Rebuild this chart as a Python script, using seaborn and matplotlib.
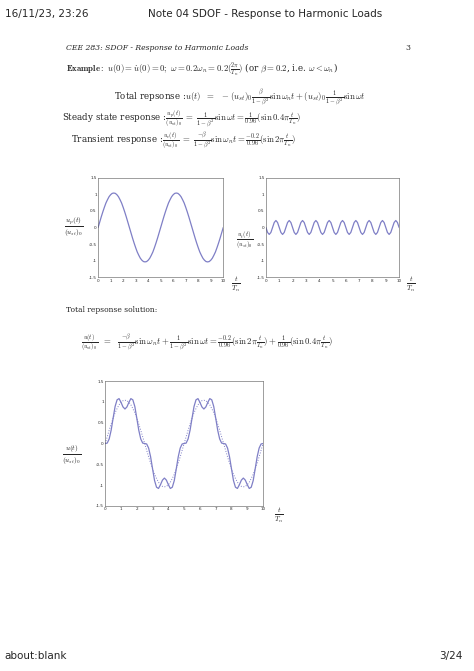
import matplotlib
matplotlib.use("Agg")
import matplotlib.pyplot as plt
import numpy as np
import seaborn as sns

# time samples t/Tn (step 0.125)
t = [i * 0.125 for i in range(81)]

# steady state response up(t)/(ust)0
quarter = [0, .16, .32, .47, .61, .74, .84, .93, .99, 1.03, 1.04]
half_pos = quarter + [1.03, .99, .93, .84, .74, .61, .47, .32, .16]
steady = (half_pos + [-v for v in half_pos]) * 2 + [0]

# transient response ut(t)/(ust)0
cycle = [0, -.15, -.21, -.15, 0, .15, .21, .15]
transient = cycle * 10 + [0]

total = list(np.array(steady) + np.array(transient))

ticks_x = [0, 1, 2, 3, 4, 5, 6, 7, 8, 9, 10]
ticks_y = [-1.5, -1, -0.5, 0, 0.5, 1, 1.5]
tick_labels_y = ["-1.5", "-1", "-0.5", "0", "0.5", "1", "1.5"]

LINE = "#7f7fc6"


def style_axes(ax):
    ax.set_xlim(0, 10)
    ax.set_ylim(-1.5, 1.5)
    ax.set_xticks(ticks_x)
    ax.set_yticks(ticks_y)
    ax.set_yticklabels(tick_labels_y)
    ax.tick_params(labelsize=3, length=1.5, width=0.4, pad=1, direction="in")
    for s in ax.spines.values():
        s.set_linewidth(0.4)
        s.set_color("#555555")
    ax.set_xlabel("")
    ax.set_ylabel("")


def main():
    sns.set_style("white")
    plt.rcParams["mathtext.fontset"] = "cm"
    fig = plt.figure(figsize=(4.74, 6.71), dpi=100)

    # page header/footer
    fig.text(0.01, 0.975, "16/11/23, 23:26", fontsize=7.5, family="DejaVu Sans")
    fig.text(0.56, 0.975, "Note 04 SDOF - Response to Harmonic Loads", fontsize=7.5,
             ha="center", family="DejaVu Sans")
    fig.text(0.01, 0.018, "about:blank", fontsize=7.5)
    fig.text(0.975, 0.018, "3/24", fontsize=7.5, ha="right")

    serif = "DejaVu Serif"
    fig.text(0.14, 0.925, "CEE 283: SDOF - Response to Harmonic Loads", fontsize=5.5,
             style="italic", family=serif)
    fig.text(0.855, 0.925, "3", fontsize=5.5, family=serif)
    fig.text(0.14, 0.893, r"$\mathbf{Example:}\ u(0)=\dot{u}(0)=0;\ \omega=0.2\omega_n=0.2(\frac{2\pi}{T_n})$"
             r" (or $\beta=0.2$, i.e. $\omega<\omega_n$)", fontsize=6.3, family=serif)
    fig.text(0.24, 0.852, r"Total repsonse :$u(t)\ \ =\ \ -(u_{st})_0\frac{\beta}{1-\beta^2}\sin\omega_n t+(u_{st})_0\frac{1}{1-\beta^2}\sin\omega t$",
             fontsize=6.3, family=serif)
    fig.text(0.13, 0.82, r"Steady state response :$\frac{u_p(t)}{(u_{st})_0}\ =\ \frac{1}{1-\beta^2}\sin\omega t=\frac{1}{0.96}(\sin 0.4\pi\frac{t}{T_n})$",
             fontsize=6.3, family=serif)
    fig.text(0.15, 0.788, r"Transient response :$\frac{u_c(t)}{(u_{st})_0}\ =\ \frac{-\beta}{1-\beta^2}\sin\omega_n t=\frac{-0.2}{0.96}(\sin 2\pi\frac{t}{T_n})$",
             fontsize=6.3, family=serif)

    fig.text(0.14, 0.535, "Total repsonse solution:", fontsize=5.5, family=serif)
    fig.text(0.17, 0.487, r"$\frac{u(t)}{(u_{st})_0}\ \ =\ \ \frac{-\beta}{1-\beta^2}\sin\omega_n t+\frac{1}{1-\beta^2}\sin\omega t=\frac{-0.2}{0.96}(\sin 2\pi\frac{t}{T_n})+\frac{1}{0.96}(\sin 0.4\pi\frac{t}{T_n})$",
             fontsize=6.3)

    ax1 = fig.add_axes([0.207, 0.587, 0.264, 0.148])
    sns.lineplot(x=t, y=steady, ax=ax1, color=LINE, lw=0.9)
    style_axes(ax1)
    fig.text(0.135, 0.66, r"$\frac{u_p(t)}{(u_{st})_0}$", fontsize=7.5)
    fig.text(0.487, 0.574, r"$\frac{t}{T_n}$", fontsize=7.5)

    ax2 = fig.add_axes([0.561, 0.587, 0.281, 0.148])
    sns.lineplot(x=t, y=transient, ax=ax2, color=LINE, lw=0.9)
    style_axes(ax2)
    fig.text(0.497, 0.638, r"$\frac{u_t(t)}{(u_{st})_0}$", fontsize=6.5)
    fig.text(0.857, 0.574, r"$\frac{t}{T_n}$", fontsize=7.5)

    ax3 = fig.add_axes([0.222, 0.246, 0.333, 0.186])
    sns.lineplot(x=t, y=total, ax=ax3, color=LINE, lw=0.9)
    sns.lineplot(x=t, y=steady, ax=ax3, color=LINE, lw=0.7, linestyle=":")
    style_axes(ax3)
    fig.text(0.13, 0.32, r"$\frac{u(t)}{(u_{st})_0}$", fontsize=7.5)
    fig.text(0.578, 0.23, r"$\frac{t}{T_n}$", fontsize=7.5)

    fig.savefig("out.png", dpi=100)
    plt.close(fig)


if __name__ == "__main__":
    main()
